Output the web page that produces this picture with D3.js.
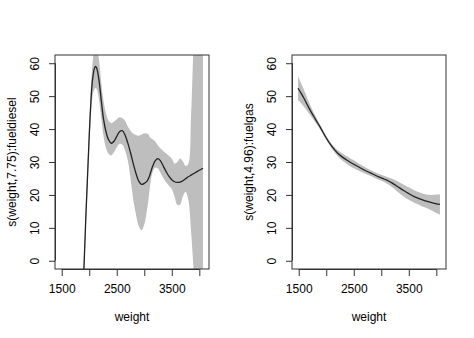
<!DOCTYPE html>
<html>
<head>
<meta charset="utf-8">
<script src="https://cdn.jsdelivr.net/npm/d3@7"></script>
<style>
  body { margin: 0; background: #fff; }
  text { font-family: "Liberation Sans", Arial, sans-serif; font-size: 12px; fill: #000; }
</style>
</head>
<body>
<script>
// smooth terms

// diesel panel
var dieselWeight = [1860, 1900, 1940, 1980, 2020, 2060, 2100, 2120, 2140, 2180, 2220, 2260, 2300, 2350, 2400,
  2450, 2500, 2550, 2600, 2650, 2700, 2750, 2800, 2850, 2900, 2950, 3000, 3050, 3075, 3100, 3150, 3200,
  3250, 3300, 3350, 3400, 3450, 3500, 3550, 3600, 3650, 3700, 3750, 3800, 3850, 3900, 3950, 4000, 4066];
var dieselFit = [-21, -4, 14, 30, 45, 55, 58.7, 59, 58.3, 54.5, 48.5, 43, 39.5, 36.8, 35.7,
  36.3, 37.8, 39.2, 39.5, 38.2, 35.8, 32.8, 29.5, 26.5, 24.2, 23.2, 23.5, 24.2, 25.0, 26.0, 28.6, 30.4,
  31.0, 30.2, 28.6, 27.0, 25.6, 24.6, 24.0, 23.8, 23.9, 24.3, 24.9, 25.5, 26.0, 26.5, 27.0, 27.5, 28.1];
var dieselUpper = [-17, 0, 18, 34, 49, 60, 65, 66, 65, 60.5, 54, 48.5, 45, 42.5, 41.8,
  42.3, 43.0, 43.6, 43.4, 42.5, 40.8, 39.5, 38.6, 38.2, 38.0, 38.3, 38.7, 38.6, 38.4, 37.6, 36.9, 36.2,
  35.0, 34.0, 33.3, 32.6, 31.8, 31.0, 29.5, 30.0, 31.1, 30.2, 28.8, 29.5, 44, 68, 85, 100, 120];
var dieselLower = [-25, -8, 10, 26, 41, 50, 52.3, 52.5, 52, 48.5, 43, 37.8, 34.5, 32.5, 32.0,
  33.0, 34.5, 35.5, 35.3, 33.5, 30.5, 25.0, 18.5, 14.0, 10.5, 9.3, 11.0, 15.5, 18.4, 22.0, 26.8, 28.3,
  28.0, 26.5, 25.0, 23.8, 22.8, 21.8, 19.5, 17.0, 17.0, 19.5, 21.0, 18.5, 9, -4, -20, -45, -80];

// gas panel
var gasWeight = [1488, 1550, 1600, 1700, 1800, 1900, 2000, 2100, 2200, 2300, 2400, 2500, 2600, 2700,
  2800, 2900, 3000, 3100, 3200, 3300, 3400, 3500, 3600, 3700, 3800, 3900, 4000, 4066];
var gasFit = [52.4, 50.7, 49.2, 46.0, 43.1, 40.3, 37.3, 34.8, 32.8, 31.4, 30.3, 29.3, 28.4, 27.5,
  26.7, 25.9, 25.2, 24.5, 23.6, 22.5, 21.4, 20.4, 19.5, 18.8, 18.2, 17.7, 17.3, 17.1];
var gasUpper = [56.0, 53.7, 51.7, 47.6, 44.1, 41.0, 37.9, 35.5, 33.7, 32.5, 31.5, 30.5, 29.5, 28.5,
  27.6, 26.8, 26.1, 25.5, 24.9, 24.1, 23.2, 22.3, 21.4, 20.7, 20.2, 20.0, 20.1, 20.2];
var gasLower = [48.8, 47.7, 46.7, 44.4, 42.1, 39.6, 36.7, 34.1, 31.9, 30.3, 29.1, 28.1, 27.3, 26.5,
  25.8, 25.0, 24.3, 23.5, 22.3, 20.9, 19.6, 18.5, 17.6, 16.9, 16.2, 15.4, 14.5, 14.0];

var xTicks = [1500, 2000, 2500, 3000, 3500, 4000];
var xTickLabels = ["1500", "", "2500", "", "3500", ""];
var yTicks = [0, 10, 20, 30, 40, 50, 60];

var panels = [
  { left: 55, title: "s(weight,7.75):fueldiesel", w: dieselWeight, fit: dieselFit, up: dieselUpper, lo: dieselLower },
  { left: 292, title: "s(weight,4.96):fuelgas", w: gasWeight, fit: gasFit, up: gasUpper, lo: gasLower }
];

var svg = d3.select("body").append("svg")
  .attr("width", 474)
  .attr("height", 338);

var boxW = 154, boxH = 214, boxTop = 55;

panels.forEach(function(p, i) {
  var x = d3.scaleLinear().domain([1378, 4176]).range([0, boxW]);
  var y = d3.scaleLinear().domain([-2.5, 62.5]).range([boxH, 0]);

  var g = svg.append("g").attr("transform", `translate(${p.left}, ${boxTop})`);

  g.append("clipPath").attr("id", "clip" + i)
    .append("rect").attr("width", boxW).attr("height", boxH);

  var rows = p.w.map(function(w, k) {
    return { w: w, fit: p.fit[k], up: p.up[k], lo: p.lo[k] };
  });

  var area = d3.area()
    .x(d => x(d.w))
    .y0(d => y(d.lo))
    .y1(d => y(d.up))
    .curve(d3.curveCatmullRom.alpha(0.5));

  var line = d3.line()
    .x(d => x(d.w))
    .y(d => y(d.fit))
    .curve(d3.curveCatmullRom.alpha(0.5));

  var plot = g.append("g").attr("clip-path", `url(#clip${i})`);
  plot.append("path").datum(rows).attr("d", area).attr("fill", "#bebebe");
  plot.append("path").datum(rows).attr("d", line)
    .attr("fill", "none").attr("stroke", "#222").attr("stroke-width", 1.3);

  // axes, R style
  var bottomAxis = d3.axisBottom(x).tickValues(xTicks)
    .tickFormat((d, k) => xTickLabels[k]).tickSize(7).tickPadding(8);
  var xAxis = g.append("g").attr("transform", `translate(0, ${boxH})`).call(bottomAxis);
  xAxis.select(".domain").attr("d", `M${x(1500)},0.5H${x(4000)}`);

  var leftAxis = d3.axisLeft(y).tickValues(yTicks).tickSize(6).tickPadding(0);
  var yAxis = g.append("g").call(leftAxis);
  yAxis.select(".domain").attr("d", `M0.5,${y(0)}V${y(60)}`);
  yAxis.selectAll(".tick text")
    .attr("transform", "rotate(-90)")
    .attr("x", 0).attr("y", -16)
    .attr("dy", 0)
    .attr("text-anchor", "middle");

  svg.selectAll(".tick line, .domain").attr("stroke", "#333");
  svg.selectAll(".tick text").style("font-size", "12px").attr("fill", "#000");

  g.append("rect").attr("width", boxW).attr("height", boxH)
    .attr("fill", "none").attr("stroke", "#333").attr("stroke-width", 1);

  g.append("text")
    .attr("x", boxW / 2).attr("y", 266)
    .attr("text-anchor", "middle")
    .text("weight");

  g.append("text")
    .attr("transform", `translate(-39, ${boxH / 2}) rotate(-90)`)
    .attr("text-anchor", "middle")
    .text(p.title);
});
</script>
</body>
</html>
